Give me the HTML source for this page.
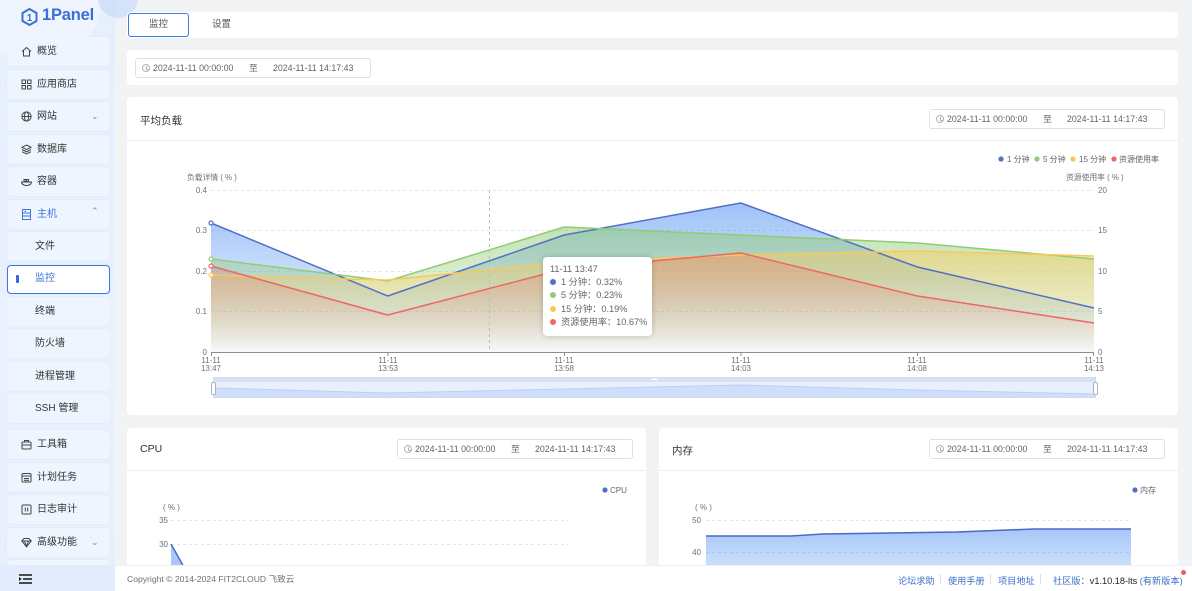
<!DOCTYPE html>
<html><head><meta charset="utf-8">
<style>
*{margin:0;padding:0;box-sizing:border-box}
body{width:1192px;height:591px;overflow:hidden;background:#f2f3f5;font-family:"Liberation Sans","Noto Sans CJK SC",sans-serif;position:relative;color:#303133}
.a{position:absolute}
.side{left:0;top:0;width:115px;height:591px;background:linear-gradient(180deg,#e6effd 0%,#e9f1fe 60%,#e7effd 100%);overflow:hidden}
.mi{position:absolute;left:7px;width:103px;height:29px;background:#eff5fe;border-radius:4px;box-shadow:0 0 1px rgba(120,150,210,.25);font-size:10px;color:#333;line-height:29px}
.mi .t{position:absolute;left:30px;top:0}
.mi .s{position:absolute;left:28px;top:0}
.mi .ic{position:absolute;left:14px;top:9px;width:11px;height:11px}
.mi .chev{position:absolute;left:84px;top:0;font-size:9px;color:#888}
.card{position:absolute;background:#fff;border-radius:4px}
.dp{position:absolute;height:20px;border:1px solid #dcdfe6;border-radius:3px;background:#fff;font-size:8.8px;color:#606266;line-height:18px;white-space:nowrap}
.dp span{position:absolute;top:0}
.dp .clk{position:absolute;left:6px;top:5px;width:8px;height:8px;border:1px solid #b0b3b8;border-radius:50%}
.dp .clk:after{content:"";position:absolute;left:3px;top:1px;width:2px;height:3px;border-left:1px solid #b0b3b8;border-bottom:1px solid #b0b3b8}
.foot{left:115px;top:565px;width:1077px;height:26px;background:#fff;border-top:1px solid #ebeef5}
</style></head><body>

<!-- decorative circle overlapping main -->
<div class="a" style="left:98px;top:-22px;width:40px;height:40px;border-radius:50%;background:rgba(205,222,250,.8)"></div>

<!-- Sidebar -->
<div class="a side">
  <div class="a" style="left:-30px;top:-50px;width:130px;height:110px;border-radius:50%;background:rgba(255,255,255,.35)"></div>
  <div class="a" style="left:98px;top:-22px;width:40px;height:40px;border-radius:50%;background:rgba(200,218,250,.7)"></div>
  <svg class="a" style="left:21px;top:8px" width="17" height="18" viewBox="0 0 17 18"><polygon points="8.5,1 15.5,5 15.5,13 8.5,17 1.5,13 1.5,5" fill="none" stroke="#3b6fd6" stroke-width="2"/><text x="8.5" y="13" font-size="10" font-weight="bold" fill="#3b6fd6" text-anchor="middle" font-family="Liberation Sans">1</text></svg>
  <div class="a" style="left:42px;top:6px;font-size:16.5px;font-weight:bold;color:#3b6fd6;letter-spacing:-0.2px">1Panel</div>

  <div class="mi" style="top:37px"><svg class="ic" viewBox="0 0 11 11"><path d="M1 5.5L5.5 1.5L10 5.5M2.5 4.5V10H8.5V4.5" fill="none" stroke="#444" stroke-width="1"/></svg><span class="t">概览</span></div>
  <div class="mi" style="top:70px"><svg class="ic" viewBox="0 0 11 11"><g fill="none" stroke="#444" stroke-width="1"><rect x="1" y="1" width="3.5" height="3.5"/><rect x="6.5" y="1" width="3.5" height="3.5"/><rect x="1" y="6.5" width="3.5" height="3.5"/><rect x="6.5" y="6.5" width="3.5" height="3.5"/></g></svg><span class="t">应用商店</span></div>
  <div class="mi" style="top:102px"><svg class="ic" viewBox="0 0 11 11"><g fill="none" stroke="#444" stroke-width="1"><circle cx="5.5" cy="5.5" r="4.6"/><ellipse cx="5.5" cy="5.5" rx="2" ry="4.6"/><line x1="1" y1="5.5" x2="10" y2="5.5"/></g></svg><span class="t">网站</span><span class="chev">&#8964;</span></div>
  <div class="mi" style="top:135px"><svg class="ic" viewBox="0 0 11 11"><g fill="none" stroke="#444" stroke-width="1"><path d="M5.5 1L10 3.3L5.5 5.6L1 3.3Z"/><path d="M1 5.5L5.5 7.8L10 5.5"/><path d="M1 7.7L5.5 10L10 7.7"/></g></svg><span class="t">数据库</span></div>
  <div class="mi" style="top:167px"><svg class="ic" viewBox="0 0 11 11"><g fill="none" stroke="#444" stroke-width="1"><path d="M0.5 6H10.5Q10 9.5 5.5 9.5Q1 9.5 0.5 6Z"/><rect x="3" y="3.5" width="2" height="2"/><rect x="5.5" y="3.5" width="2" height="2"/></g></svg><span class="t">容器</span></div>
  <div class="mi" style="top:200px"><svg class="ic" viewBox="0 0 11 11"><g fill="none" stroke="#3d73d9" stroke-width="1"><rect x="1.5" y="0.5" width="8" height="10"/><line x1="1.5" y1="4" x2="9.5" y2="4"/><line x1="1.5" y1="7" x2="9.5" y2="7"/><line x1="3.5" y1="2.3" x2="5" y2="2.3"/></g></svg><span class="t" style="color:#3d73d9">主机</span><span class="chev" style="top:-3px">&#8963;</span></div>
  <div class="mi" style="top:232px"><span class="s">文件</span></div>
  <div class="mi" style="top:265px;background:#fff;border:1.5px solid #3a78e0;line-height:26px"><span class="a" style="left:8px;top:9px;width:2.5px;height:8px;background:#2f6bd8;border-radius:1px"></span><span class="s" style="color:#3d73d9;left:27px">监控</span></div>
  <div class="mi" style="top:297px"><span class="s">终端</span></div>
  <div class="mi" style="top:329px"><span class="s">防火墙</span></div>
  <div class="mi" style="top:362px"><span class="s">进程管理</span></div>
  <div class="mi" style="top:394px"><span class="s">SSH 管理</span></div>
  <div class="mi" style="top:430px"><svg class="ic" viewBox="0 0 11 11"><g fill="none" stroke="#444" stroke-width="1"><rect x="1" y="3" width="9" height="7" rx="1"/><path d="M3.5 3V1.5H7.5V3"/><line x1="1" y1="6" x2="10" y2="6"/></g></svg><span class="t">工具箱</span></div>
  <div class="mi" style="top:463px"><svg class="ic" viewBox="0 0 11 11"><g fill="none" stroke="#444" stroke-width="1"><rect x="1" y="1.5" width="9" height="8.5" rx="1"/><line x1="1" y1="4" x2="10" y2="4"/><line x1="3" y1="6.5" x2="8" y2="6.5"/><line x1="3" y1="8.3" x2="8" y2="8.3"/></g></svg><span class="t">计划任务</span></div>
  <div class="mi" style="top:495px"><svg class="ic" viewBox="0 0 11 11"><g fill="none" stroke="#444" stroke-width="1"><rect x="1" y="1" width="9" height="9" rx="1"/><line x1="4.3" y1="3.5" x2="4.3" y2="7.5"/><line x1="6.7" y1="3.5" x2="6.7" y2="7.5"/></g></svg><span class="t">日志审计</span></div>
  <div class="mi" style="top:528px"><svg class="ic" viewBox="0 0 11 11"><g fill="none" stroke="#444" stroke-width="1"><path d="M0.8 4L3 1.5H8L10.2 4L5.5 9.8Z"/><line x1="0.8" y1="4" x2="10.2" y2="4"/><path d="M3.5 4L5.5 9.5L7.5 4"/></g></svg><span class="t">高级功能</span><span class="chev">&#8964;</span></div>
  <div class="mi" style="top:560px"></div>
  <div class="a" style="left:0;top:565px;width:115px;height:26px;background:#e3ecfc"></div>
  <svg class="a" style="left:19px;top:574px" width="13" height="10" viewBox="0 0 13 10"><g stroke="#222" stroke-width="1.6"><line x1="0" y1="1" x2="13" y2="1"/><line x1="4" y1="5" x2="13" y2="5"/><line x1="0" y1="9" x2="13" y2="9"/></g><polygon points="0,3 2.8,5 0,7" fill="#222"/></svg>
</div>

<!-- Tabs card -->
<div class="card" style="left:127px;top:12px;width:1051px;height:26px"></div>
<div class="a" style="left:128px;top:13px;width:61px;height:24px;border:1.5px solid #3f7de2;border-radius:3px;font-size:9.5px;color:#555;text-align:center;line-height:21px">监控</div>
<div class="a" style="left:212px;top:13px;font-size:9.5px;color:#555;line-height:24px">设置</div>

<!-- Date card -->
<div class="card" style="left:127px;top:50px;width:1051px;height:35px"></div>
<div class="dp" style="left:135px;top:58px;width:236px"><i class="clk"></i><span style="left:17px">2024-11-11 00:00:00</span><span style="left:113px">至</span><span style="left:137px">2024-11-11 14:17:43</span></div>

<!-- Load card -->
<div class="card" style="left:127px;top:97px;width:1051px;height:318px"></div>
<div class="a" style="left:127px;top:140px;width:1051px;height:1px;background:#ebeef5"></div>
<div class="a" style="left:140px;top:113px;font-size:10.5px;color:#303133">平均负载</div>
<div class="dp" style="left:929px;top:109px;width:236px"><i class="clk"></i><span style="left:17px">2024-11-11 00:00:00</span><span style="left:113px">至</span><span style="left:137px">2024-11-11 14:17:43</span></div>

<!-- CPU card -->
<div class="card" style="left:127px;top:428px;width:519px;height:150px"></div>
<div class="a" style="left:127px;top:470px;width:519px;height:1px;background:#ebeef5"></div>
<div class="a" style="left:140px;top:443px;font-size:10.5px;color:#303133">CPU</div>
<div class="dp" style="left:397px;top:439px;width:236px"><i class="clk"></i><span style="left:17px">2024-11-11 00:00:00</span><span style="left:113px">至</span><span style="left:137px">2024-11-11 14:17:43</span></div>

<!-- Mem card -->
<div class="card" style="left:659px;top:428px;width:519px;height:150px"></div>
<div class="a" style="left:659px;top:470px;width:519px;height:1px;background:#ebeef5"></div>
<div class="a" style="left:672px;top:443px;font-size:10.5px;color:#303133">内存</div>
<div class="dp" style="left:929px;top:439px;width:236px"><i class="clk"></i><span style="left:17px">2024-11-11 00:00:00</span><span style="left:113px">至</span><span style="left:137px">2024-11-11 14:17:43</span></div>

<!-- Charts SVG -->
<svg class="a" style="left:0;top:0" width="1192" height="591" viewBox="0 0 1192 591" font-family="Liberation Sans, Noto Sans CJK SC, sans-serif">
  <defs>
    <linearGradient id="gb" x1="0" y1="0" x2="0" y2="1"><stop offset="0" stop-color="rgb(0,94,235)" stop-opacity="0.38"/><stop offset="1" stop-color="rgb(0,94,235)" stop-opacity="0.02"/></linearGradient>
    <linearGradient id="gg" x1="0" y1="0" x2="0" y2="1"><stop offset="0" stop-color="#91cc75" stop-opacity="0.55"/><stop offset="1" stop-color="#91cc75" stop-opacity="0.02"/></linearGradient>
    <linearGradient id="gy" x1="0" y1="0" x2="0" y2="1"><stop offset="0" stop-color="#fac858" stop-opacity="0.45"/><stop offset="1" stop-color="#fac858" stop-opacity="0.02"/></linearGradient>
    <linearGradient id="gr" x1="0" y1="0" x2="0" y2="1"><stop offset="0" stop-color="#ee6666" stop-opacity="0.3"/><stop offset="1" stop-color="#ee6666" stop-opacity="0.0"/></linearGradient>
    <linearGradient id="gm" x1="0" y1="0" x2="0" y2="1"><stop offset="0" stop-color="rgb(0,94,235)" stop-opacity="0.35"/><stop offset="1" stop-color="rgb(0,94,235)" stop-opacity="0.15"/></linearGradient>
  </defs>

  <!-- Load chart grid -->
  <g stroke="#e0e6f1" stroke-width="1" stroke-dasharray="3,3">
    <line x1="211" y1="190.5" x2="1094" y2="190.5"/>
    <line x1="211" y1="230.5" x2="1094" y2="230.5"/>
    <line x1="211" y1="271.5" x2="1094" y2="271.5"/>
    <line x1="211" y1="311.5" x2="1094" y2="311.5"/>
  </g>
  <!-- areas -->
  <polygon points="211,223 387.6,296 564.2,235 740.8,203 917.4,267 1094,308 1094,352 211,352" fill="url(#gb)"/>
  <polygon points="211,259 387.6,281 564.2,227 740.8,235 917.4,243 1094,259 1094,352 211,352" fill="url(#gg)"/>
  <polygon points="211,275 387.6,280 564.2,262 740.8,255 917.4,251 1094,256 1094,352 211,352" fill="url(#gy)"/>
  <polygon points="211,266 387.6,315 564.2,269 740.8,253 917.4,296 1094,323 1094,352 211,352" fill="url(#gr)"/>
  <!-- crosshair -->
  <line x1="489.5" y1="190" x2="489.5" y2="352" stroke="#b8bcc4" stroke-dasharray="3,3"/>
  <!-- lines -->
  <g fill="none" stroke-width="1.5" stroke-linejoin="round">
    <polyline points="211,223 387.6,296 564.2,235 740.8,203 917.4,267 1094,308" stroke="#5470c6"/>
    <polyline points="211,259 387.6,281 564.2,227 740.8,235 917.4,243 1094,259" stroke="#91cc75"/>
    <polyline points="211,275 387.6,280 564.2,262 740.8,255 917.4,251 1094,256" stroke="#fac858"/>
    <polyline points="211,266 387.6,315 564.2,269 740.8,253 917.4,296 1094,323" stroke="#ee6666"/>
  </g>
  <g fill="#fff" stroke-width="1.2">
    <circle cx="211" cy="223" r="2" stroke="#5470c6"/>
    <circle cx="211" cy="259" r="2" stroke="#91cc75"/>
    <circle cx="211" cy="275" r="2" stroke="#fac858"/>
    <circle cx="211" cy="266" r="2" stroke="#ee6666"/>
  </g>
  <!-- x axis -->
  <line x1="211" y1="352.5" x2="1094" y2="352.5" stroke="#8a8d93" stroke-width="1"/>
  <g stroke="#8a8d93"><line x1="211.5" y1="352" x2="211.5" y2="356"/><line x1="388" y1="352" x2="388" y2="356"/><line x1="564.5" y1="352" x2="564.5" y2="356"/><line x1="741" y1="352" x2="741" y2="356"/><line x1="917.5" y1="352" x2="917.5" y2="356"/><line x1="1093.5" y1="352" x2="1093.5" y2="356"/></g>
  <g font-size="8" fill="#6e7079" text-anchor="middle">
    <text x="211" y="363">11-11</text><text x="211" y="371">13:47</text>
    <text x="388" y="363">11-11</text><text x="388" y="371">13:53</text>
    <text x="564" y="363">11-11</text><text x="564" y="371">13:58</text>
    <text x="741" y="363">11-11</text><text x="741" y="371">14:03</text>
    <text x="917" y="363">11-11</text><text x="917" y="371">14:08</text>
    <text x="1094" y="363">11-11</text><text x="1094" y="371">14:13</text>
  </g>
  <g font-size="8" fill="#6e7079" text-anchor="end">
    <text x="207" y="193">0.4</text><text x="207" y="233">0.3</text><text x="207" y="274">0.2</text><text x="207" y="314">0.1</text><text x="207" y="355">0</text>
  </g>
  <g font-size="8" fill="#6e7079">
    <text x="1098" y="193">20</text><text x="1098" y="233">15</text><text x="1098" y="274">10</text><text x="1098" y="314">5</text><text x="1098" y="355">0</text>
  </g>
  <text x="187" y="180" font-size="7.8" fill="#6e7079">负载详情 ( % )</text>
  <text x="1066" y="180" font-size="7.8" fill="#6e7079">资源使用率 ( % )</text>
  <!-- legend -->
  <g font-size="8" fill="#666">
    <circle cx="1001" cy="159" r="2.6" fill="#5470c6"/><text x="1007" y="162">1 分钟</text>
    <circle cx="1037" cy="159" r="2.6" fill="#91cc75"/><text x="1043" y="162">5 分钟</text>
    <circle cx="1073" cy="159" r="2.6" fill="#fac858"/><text x="1079" y="162">15 分钟</text>
    <circle cx="1114" cy="159" r="2.6" fill="#ee6666"/><text x="1119" y="162">资源使用率</text>
  </g>
  <!-- data zoom -->
  <rect x="213.5" y="377.5" width="882" height="20" fill="#e9f0fd" stroke="#d2dbee"/>
  <rect x="214" y="378" width="881" height="4" fill="#d7e2f7"/>
  <polygon points="214,388 388,393 564,389 741,385 917,390 1095,394 1095,397 214,397" fill="#cfdefa"/>
  <polyline points="214,388 388,393 564,389 741,385 917,390 1095,394" fill="none" stroke="#bcd0f5" stroke-width="1"/>
  <rect x="211.5" y="382.5" width="4" height="12" rx="1.5" fill="#fff" stroke="#a8b3c6"/>
  <rect x="1093.5" y="382.5" width="4" height="12" rx="1.5" fill="#fff" stroke="#a8b3c6"/>
  <rect x="652" y="378.5" width="5" height="1.5" fill="#fff"/>

  <!-- CPU chart -->
  <g stroke="#e0e6f1" stroke-dasharray="3,3"><line x1="171" y1="520.5" x2="568" y2="520.5"/><line x1="171" y1="544.5" x2="568" y2="544.5"/></g>
  <polygon points="171,544 190,578 171,578" fill="#a9c8f6"/>
  <polyline points="171,544 190,578" fill="none" stroke="#4a68c6" stroke-width="1.5"/>
  <g font-size="8" fill="#6e7079"><text x="163" y="510">( % )</text><text x="168" y="523" text-anchor="end">35</text><text x="168" y="547" text-anchor="end">30</text></g>
  <circle cx="605" cy="490" r="2.6" fill="#5470c6"/><text x="610" y="493" font-size="8" fill="#666">CPU</text>

  <!-- Memory chart -->
  <g stroke="#e0e6f1" stroke-dasharray="3,3"><line x1="706" y1="520.5" x2="1131" y2="520.5"/><line x1="706" y1="552.5" x2="1131" y2="552.5"/></g>
  <polygon points="706,536 791,536 823,534 957,532 1034,529 1131,529 1131,578 706,578" fill="url(#gm)"/>
  <polyline points="706,536 791,536 823,534 957,532 1034,529 1131,529" fill="none" stroke="#4a68c6" stroke-width="1.5"/>
  <g font-size="8" fill="#6e7079"><text x="695" y="510">( % )</text><text x="701" y="523" text-anchor="end">50</text><text x="701" y="555" text-anchor="end">40</text></g>
  <circle cx="1135" cy="490" r="2.6" fill="#5470c6"/><text x="1140" y="493" font-size="8" fill="#666">内存</text>
</svg>

<!-- Tooltip -->
<div class="a" style="left:543px;top:257px;width:109px;height:79px;background:#fff;border-radius:4px;box-shadow:0 0 6px rgba(0,0,0,.2);font-size:9.2px;color:#666;line-height:13.2px;padding:6px 0 0 7px;white-space:nowrap">
  <div>11-11 13:47</div>
  <div><span style="display:inline-block;width:6px;height:6px;border-radius:50%;background:#5470c6;margin-right:5px"></span>1 分钟：0.32%</div>
  <div><span style="display:inline-block;width:6px;height:6px;border-radius:50%;background:#91cc75;margin-right:5px"></span>5 分钟：0.23%</div>
  <div><span style="display:inline-block;width:6px;height:6px;border-radius:50%;background:#fac858;margin-right:5px"></span>15 分钟：0.19%</div>
  <div><span style="display:inline-block;width:6px;height:6px;border-radius:50%;background:#ee6666;margin-right:5px"></span>资源使用率：10.67%</div>
</div>

<!-- Footer -->
<div class="a foot"></div>
<div class="a" style="left:127px;top:573px;font-size:8.6px;color:#707070">Copyright © 2014-2024 FIT2CLOUD 飞致云</div>
<div class="a" style="left:898px;top:573px;font-size:9.2px;color:#3a6fc7;white-space:nowrap">论坛求助</div>
<div class="a" style="left:940px;top:574px;width:1px;height:10px;background:#dcdfe6"></div>
<div class="a" style="left:948px;top:573px;font-size:9.2px;color:#3a6fc7;white-space:nowrap">使用手册</div>
<div class="a" style="left:990px;top:574px;width:1px;height:10px;background:#dcdfe6"></div>
<div class="a" style="left:998px;top:573px;font-size:9.2px;color:#3a6fc7;white-space:nowrap">项目地址</div>
<div class="a" style="left:1040px;top:574px;width:1px;height:10px;background:#dcdfe6"></div>
<div class="a" style="left:1053px;top:573px;font-size:9.2px;color:#3a6fc7;white-space:nowrap">社区版：<span style="color:#222">v1.10.18-lts</span> (有新版本)</div>
<div class="a" style="left:1181px;top:570px;width:5px;height:5px;border-radius:50%;background:#ef5e5e"></div>
</body></html>
